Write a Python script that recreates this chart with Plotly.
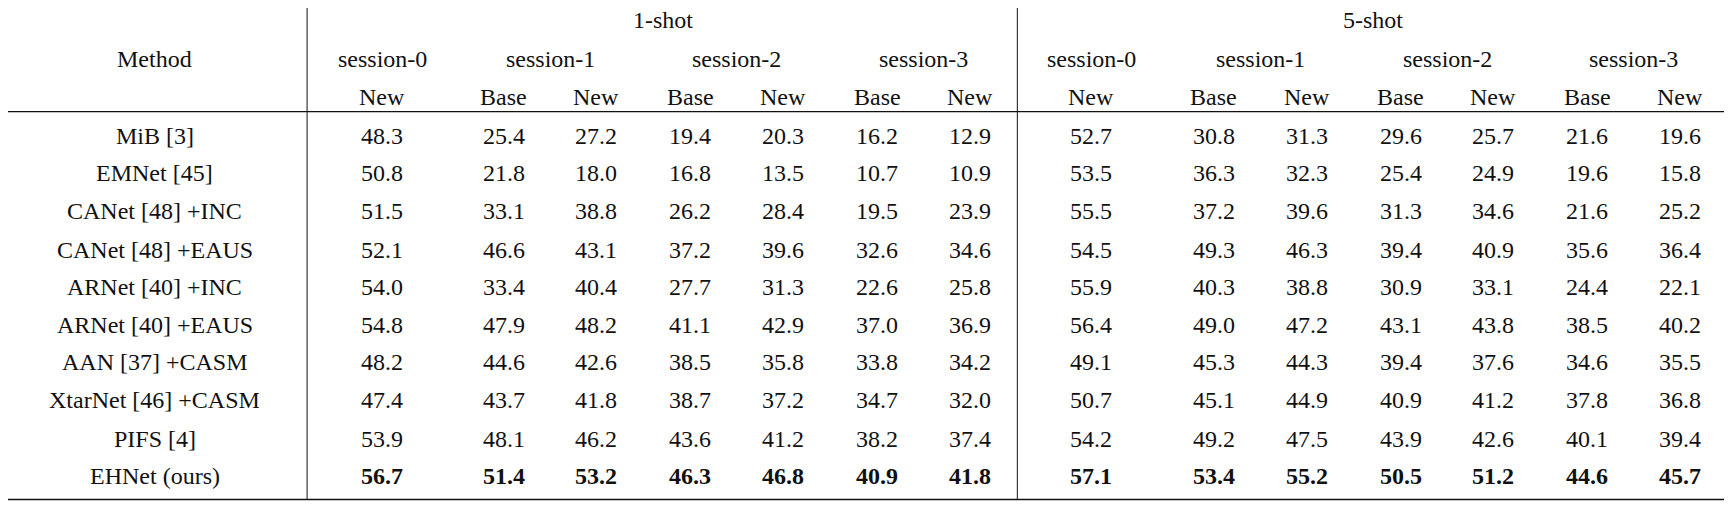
import plotly.graph_objects as go

methods = ["MiB [3]", "EMNet [45]", "CANet [48] +INC", "CANet [48] +EAUS", "ARNet [40] +INC",
           "ARNet [40] +EAUS", "AAN [37] +CASM", "XtarNet [46] +CASM", "PIFS [4]", "EHNet (ours)"]
shot_labels = ["1-shot", "5-shot"]
session_labels = ["session-0", "session-1", "session-2", "session-3"]
sub_labels = ["New", "Base", "New", "Base", "New", "Base", "New"]
one_shot = [
    [48.3, 25.4, 27.2, 19.4, 20.3, 16.2, 12.9],
    [50.8, 21.8, 18.0, 16.8, 13.5, 10.7, 10.9],
    [51.5, 33.1, 38.8, 26.2, 28.4, 19.5, 23.9],
    [52.1, 46.6, 43.1, 37.2, 39.6, 32.6, 34.6],
    [54.0, 33.4, 40.4, 27.7, 31.3, 22.6, 25.8],
    [54.8, 47.9, 48.2, 41.1, 42.9, 37.0, 36.9],
    [48.2, 44.6, 42.6, 38.5, 35.8, 33.8, 34.2],
    [47.4, 43.7, 41.8, 38.7, 37.2, 34.7, 32.0],
    [53.9, 48.1, 46.2, 43.6, 41.2, 38.2, 37.4],
    [56.7, 51.4, 53.2, 46.3, 46.8, 40.9, 41.8],
]
five_shot = [
    [52.7, 30.8, 31.3, 29.6, 25.7, 21.6, 19.6],
    [53.5, 36.3, 32.3, 25.4, 24.9, 19.6, 15.8],
    [55.5, 37.2, 39.6, 31.3, 34.6, 21.6, 25.2],
    [54.5, 49.3, 46.3, 39.4, 40.9, 35.6, 36.4],
    [55.9, 40.3, 38.8, 30.9, 33.1, 24.4, 22.1],
    [56.4, 49.0, 47.2, 43.1, 43.8, 38.5, 40.2],
    [49.1, 45.3, 44.3, 39.4, 37.6, 34.6, 35.5],
    [50.7, 45.1, 44.9, 40.9, 41.2, 37.8, 36.8],
    [54.2, 49.2, 47.5, 43.9, 42.6, 40.1, 39.4],
    [57.1, 53.4, 55.2, 50.5, 51.2, 44.6, 45.7],
]

W, H = 1568, 457
OFF = 7.24
FONT = "Liberation Serif, Times New Roman, serif"
FS = 24
col_x1 = [346, 456, 540, 625, 709, 794, 878]
col_x5 = [988, 1099, 1183, 1268, 1352, 1437, 1521]
sess_x1 = [346, 498, 667, 836]
sess_x5 = [988, 1141, 1310, 1479]
row_y = [123, 157, 191, 226, 260, 294, 328, 362, 397, 431]

ann = []
def t(x, y, s, bold=False):
    ann.append(dict(x=x, y=y, xref="x", yref="y", text=f"<b>{s}</b>" if bold else s,
                    showarrow=False, font=dict(family=FONT, size=FS, color="#111")))

t(140, 53, "Method")
t(600, 18, shot_labels[0]); t(1243, 18, shot_labels[1])
for i, s in enumerate(session_labels):
    t(sess_x1[i], 53, s); t(sess_x5[i], 53, s)
for i, s in enumerate(sub_labels):
    t(col_x1[i], 88, s); t(col_x5[i], 88, s)
for r, m in enumerate(methods):
    bold = r == len(methods) - 1
    t(140, row_y[r], m)
    for c in range(7):
        t(col_x1[c], row_y[r], f"{one_shot[r][c]:.1f}", bold)
        t(col_x5[c], row_y[r], f"{five_shot[r][c]:.1f}", bold)

shapes = [
    dict(type="line", x0=4, x1=1564, y0=3, y1=3, line=dict(color="#111", width=1.6)),
    dict(type="line", x0=4, x1=1564, y0=101, y1=101, line=dict(color="#111", width=1.3)),
    dict(type="line", x0=4, x1=1564, y0=452, y1=452, line=dict(color="#111", width=1.6)),
    dict(type="line", x0=278, x1=278, y0=3, y1=452, line=dict(color="#111", width=1)),
    dict(type="line", x0=921, x1=921, y0=3, y1=452, line=dict(color="#111", width=1)),
]

fig = go.Figure()
fig.add_trace(go.Scatter(x=[OFF, W], y=[OFF, H], mode="markers", marker=dict(opacity=0), hoverinfo="skip"))
fig.update_layout(width=1724, height=497, margin=dict(l=0, r=0, t=0, b=0),
                  plot_bgcolor="white", paper_bgcolor="white", showlegend=False,
                  xaxis=dict(range=[OFF, W], visible=False, fixedrange=True),
                  yaxis=dict(range=[H, OFF], visible=False, fixedrange=True),
                  annotations=ann, shapes=shapes)
fig.write_html("out.html")
